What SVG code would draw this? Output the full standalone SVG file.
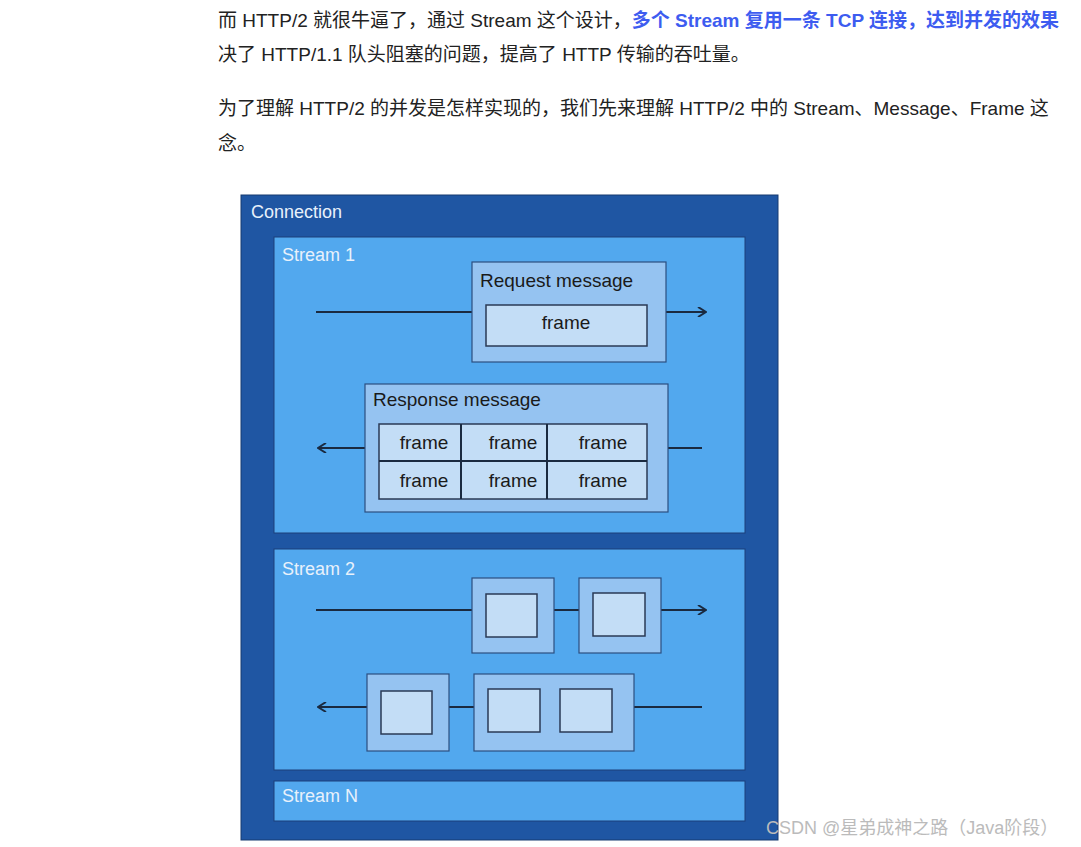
<svg xmlns="http://www.w3.org/2000/svg" width="1081" height="847" viewBox="0 0 1081 847">
<style>
.p{font-family:"Liberation Sans","Noto Sans CJK SC",sans-serif;font-size:19px;fill:#222}
.b{fill:#3d5cf0;font-weight:bold}
.l{font-family:"Liberation Sans",sans-serif;font-size:18px;fill:#e8f1fb}
.t{font-family:"Liberation Sans",sans-serif;font-size:19px;fill:#1a1a1a}
.st{fill:#52a8ee;stroke:#1c3f7a;stroke-width:1}
.msg{fill:#95c3f1;stroke:#2c4f80;stroke-width:1.2}
.fr{fill:#c3ddf6;stroke:#2a3a55;stroke-width:1.5}
.ln{stroke:#1a2a40;stroke-width:2;fill:none}
</style>
<defs><marker id="a" markerWidth="10" markerHeight="10" refX="9" refY="5" orient="auto" markerUnits="userSpaceOnUse"><path d="M1,0 L9,5 L1,10" fill="none" stroke="#1a2a40" stroke-width="2"/></marker></defs>
<rect width="1081" height="847" fill="#fff"/>
<text class="p" x="218" y="27">而 HTTP/2 就很牛逼了，通过 Stream 这个设计，<tspan class="b">多个 Stream 复用一条 TCP 连接，达到并发的效果</tspan></text>
<text class="p" x="218" y="61">决了 HTTP/1.1 队头阻塞的问题，提高了 HTTP 传输的吞吐量。</text>
<text class="p" x="218" y="115">为了理解 HTTP/2 的并发是怎样实现的，我们先来理解 HTTP/2 中的 Stream、Message、Frame 这</text>
<text class="p" x="218" y="150">念。</text>
<g id="connection"><rect x="241" y="195" width="537" height="645" fill="#1f56a3" stroke="#163a70"/><text class="l" x="251" y="218">Connection</text></g>
<g id="stream1"><rect class="st" x="274" y="237" width="471" height="296"/><text class="l" x="282" y="261">Stream 1</text></g>
<g id="stream2"><rect class="st" x="274" y="549" width="471" height="221"/><text class="l" x="282" y="575">Stream 2</text></g>
<g id="streamN"><rect class="st" x="274" y="781" width="471" height="40"/><text class="l" x="282" y="802">Stream N</text></g>
<g id="connectors">
<line class="ln" x1="316" y1="312" x2="472" y2="312"/><line class="ln" x1="666" y1="312" x2="706" y2="312" marker-end="url(#a)"/>
<line class="ln" x1="365" y1="448" x2="318" y2="448" marker-end="url(#a)"/><line class="ln" x1="668" y1="448" x2="702" y2="448"/>
<line class="ln" x1="316" y1="610" x2="472" y2="610"/><line class="ln" x1="554" y1="610" x2="579" y2="610"/><line class="ln" x1="661" y1="610" x2="706" y2="610" marker-end="url(#a)"/>
<line class="ln" x1="367" y1="707" x2="318" y2="707" marker-end="url(#a)"/><line class="ln" x1="449" y1="707" x2="474" y2="707"/><line class="ln" x1="634" y1="707" x2="702" y2="707"/>
</g>
<g id="request"><rect class="msg" x="472" y="262" width="194" height="100"/><text class="t" x="480" y="287">Request message</text>
<rect class="fr" x="486" y="305" width="161" height="41"/><text class="t" x="566" y="329" text-anchor="middle" font-size="20">frame</text></g>
<g id="response"><rect class="msg" x="365" y="384" width="303" height="128"/><text class="t" x="373" y="406">Response message</text>
<rect class="fr" x="379" y="424" width="268" height="75"/>
<path class="ln" d="M461,424V499M547,424V499M379,461H647" stroke-width="1.5"/>
<g class="t" text-anchor="middle" font-size="20"><text x="424" y="449">frame</text><text x="513" y="449">frame</text><text x="603" y="449">frame</text><text x="424" y="487">frame</text><text x="513" y="487">frame</text><text x="603" y="487">frame</text></g></g>
<g id="s2a"><rect class="msg" x="472" y="578" width="82" height="75"/><rect class="fr" x="486" y="594" width="51" height="43"/></g>
<g id="s2b"><rect class="msg" x="579" y="578" width="82" height="75"/><rect class="fr" x="593" y="593" width="52" height="43"/></g>
<g id="s2c"><rect class="msg" x="367" y="674" width="82" height="77"/><rect class="fr" x="381" y="691" width="51" height="43"/></g>
<g id="s2d"><rect class="msg" x="474" y="674" width="160" height="77"/><rect class="fr" x="488" y="689" width="52" height="43"/><rect class="fr" x="560" y="689" width="52" height="43"/></g>
<text x="766" y="834" style="font-family:'Liberation Sans','Noto Sans CJK SC',sans-serif;font-size:18px;fill:#bbb">CSDN @星弟成神之路（Java阶段）</text>
</svg>
